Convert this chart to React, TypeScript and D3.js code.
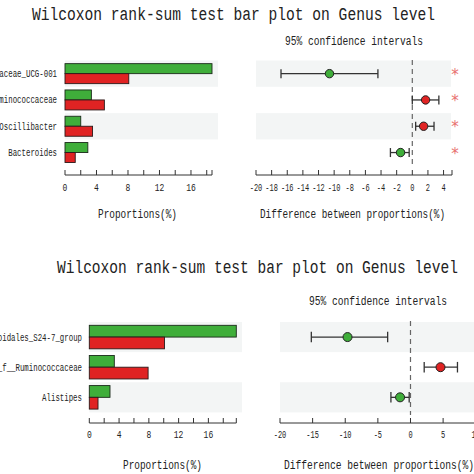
import React from "react";
import * as d3 from "d3";

// ---------- Data ----------
const topGenera = ["Ruminococcaceae_UCG-001", "Ruminococcaceae", "Oscillibacter", "Bacteroides"];
const topGreen = [18.67, 3.35, 2.0, 2.9];
const topRed = [8.1, 5.0, 3.5, 1.3];
const topDiff = [-10.6, 1.7, 1.45, -1.5];
const topLow = [-16.8, 0.0, 0.43, -2.8];
const topHigh = [-4.4, 3.4, 2.78, -0.4];
const topSig = ["*", "*", "*", "*"];
const topPropTicks = [0, 2, 4, 6, 8, 10, 12, 14, 16, 18];
const topPropLabels = [0, 4, 8, 12, 16];
const topDiffTicks = [-20, -18, -16, -14, -12, -10, -8, -6, -4, -2, 0, 2, 4];

const botGenera = ["g__Bacteroidales_S24-7_group", "g__unclassified_f__Ruminococcaceae", "Alistipes"];
const botGreen = [19.75, 3.36, 2.78];
const botRed = [10.1, 7.9, 1.17];
const botDiff = [-9.65, 4.6, -1.6];
const botLow = [-15.2, 2.1, -3.0];
const botHigh = [-3.5, 7.2, -0.2];
const botPropTicks = [0, 2, 4, 6, 8, 10, 12, 14, 16, 18];
const botPropLabels = [0, 4, 8, 12, 16];
const botDiffTicks = [-20, -15, -10, -5, 0, 5, 10];

const TITLE = "Wilcoxon rank-sum test bar plot on Genus level";
const CI_TITLE = "95% confidence intervals";
const PROP_LABEL = "Proportions(%)";
const DIFF_LABEL = "Difference between proportions(%)";

const GREEN = "#3fae3a";
const RED = "#e02323";
const BAND = "#f3f5f5";
const FONT = "'Liberation Mono', 'DejaVu Sans Mono', monospace";
const INK = "#222";

type PanelProps = {
  genera: string[];
  green: number[];
  red: number[];
  diff: number[];
  low: number[];
  high: number[];
  sig?: string[];
  propTicks: number[];
  propLabels: number[];
  diffTicks: number[];
  propDomain: [number, number];
  propRange: [number, number];
  diffDomain: [number, number];
  diffRange: [number, number];
  rowRange: [number, number];
  barFrac: number;
  axisY: number;
  tickLabelY: number;
  labelX: number;
  propBandEnd: number;
  diffBandRange: [number, number];
  dashTop: number;
  dotR: number;
  titleX: number;
  titleY: number;
  titleLen: number;
  ciX: number;
  ciY: number;
  ciLen: number;
  propLabelX: number;
  propLabelLen: number;
  diffLabelX: number;
  diffLabelLen: number;
  axisLabelY: number;
  sigX?: number;
  propEndTick: boolean;
  diffEndTick: boolean;
};

function Panel(p: PanelProps) {
  const px = d3.scaleLinear().domain(p.propDomain).range(p.propRange);
  const dx = d3.scaleLinear().domain(p.diffDomain).range(p.diffRange);
  const y = d3.scaleBand<string>().domain(p.genera).range(p.rowRange).padding(0);
  const bw = y.bandwidth();
  const barH = (bw * p.barFrac) / 2;
  const cap = barH * 0.45;

  return (
    <g>
      <text x={p.titleX} y={p.titleY} fontSize={18} fontFamily={FONT} fill={INK}
        textLength={p.titleLen} lengthAdjust="spacingAndGlyphs">{TITLE}</text>
      <text x={p.ciX} y={p.ciY} fontSize={12} fontFamily={FONT} fill={INK}
        textLength={p.ciLen} lengthAdjust="spacingAndGlyphs">{CI_TITLE}</text>

      {/* background bands */}
      {p.genera.map((g, i) =>
        i % 2 === 0 ? (
          <g key={"band" + g}>
            <rect x={px(0)} y={y(g)!} width={p.propBandEnd - px(0)} height={bw} fill={BAND} />
            <rect x={p.diffBandRange[0]} y={y(g)!} width={p.diffBandRange[1] - p.diffBandRange[0]} height={bw} fill={BAND} />
          </g>
        ) : null
      )}

      {/* bars */}
      {p.genera.map((g, i) => {
        const c = y(g)! + bw / 2;
        return (
          <g key={"bar" + g}>
            <rect x={px(0)} y={c - barH} width={px(p.green[i]) - px(0)} height={barH}
              fill={GREEN} stroke="#1a2a1a" strokeWidth={0.9} />
            <rect x={px(0)} y={c} width={px(p.red[i]) - px(0)} height={barH}
              fill={RED} stroke="#2a1a1a" strokeWidth={0.9} />
            <text x={p.labelX} y={c + 3.5} fontSize={10} fontFamily={FONT} textAnchor="end" fill={INK}
              transform={`translate(${p.labelX},0) scale(0.74,1) translate(${-p.labelX},0)`}>{g}</text>
          </g>
        );
      })}

      {/* dashed zero line */}
      <line x1={dx(0)} x2={dx(0)} y1={p.dashTop} y2={p.axisY - 8} stroke="#666" strokeWidth={1.2} strokeDasharray="5,4" />

      {/* CI */}
      {p.genera.map((g, i) => {
        const c = y(g)! + bw / 2;
        const col = p.diff[i] < 0 ? GREEN : RED;
        return (
          <g key={"ci" + g}>
            <line x1={dx(p.low[i])} x2={dx(p.high[i])} y1={c} y2={c} stroke="#333" strokeWidth={1.3} />
            <line x1={dx(p.low[i])} x2={dx(p.low[i])} y1={c - cap} y2={c + cap} stroke="#333" strokeWidth={1.3} />
            <line x1={dx(p.high[i])} x2={dx(p.high[i])} y1={c - cap} y2={c + cap} stroke="#333" strokeWidth={1.3} />
            <circle cx={dx(p.diff[i])} cy={c} r={p.dotR} fill={col} stroke="#222" strokeWidth={1} />
            {p.sig && p.sigX !== undefined ? (
              <text x={p.sigX} y={c + 6} fontSize={15} fontFamily="'DejaVu Sans', sans-serif" textAnchor="middle" fill="#e87070">{p.sig[i]}</text>
            ) : null}
          </g>
        );
      })}

      {/* proportion axis */}
      <line x1={px(p.propDomain[0])} x2={px(p.propDomain[1])} y1={p.axisY} y2={p.axisY} stroke="#333" strokeWidth={1} />
      {p.propTicks.map((t) => (
        <line key={"pt" + t} x1={px(t)} x2={px(t)} y1={p.axisY} y2={p.axisY - 5} stroke="#333" strokeWidth={1} />
      ))}
      {p.propEndTick ? (
        <line x1={px(p.propDomain[1])} x2={px(p.propDomain[1])} y1={p.axisY} y2={p.axisY - 5} stroke="#333" strokeWidth={1} />
      ) : null}
      {p.propLabels.map((t) => (
        <text key={"pl" + t} x={px(t)} y={p.tickLabelY} fontSize={10} fontFamily={FONT} textAnchor="middle" fill={INK}
          transform={`translate(${px(t)},0) scale(0.8,1) translate(${-px(t)},0)`}>{t}</text>
      ))}
      <text x={p.propLabelX} y={p.axisLabelY} fontSize={13} fontFamily={FONT} fill={INK}
        textLength={p.propLabelLen} lengthAdjust="spacingAndGlyphs">{PROP_LABEL}</text>

      {/* diff axis */}
      <line x1={dx(p.diffDomain[0])} x2={dx(p.diffDomain[1])} y1={p.axisY} y2={p.axisY} stroke="#333" strokeWidth={1} />
      {p.diffTicks.map((t) => (
        <line key={"dt" + t} x1={dx(t)} x2={dx(t)} y1={p.axisY} y2={p.axisY - 5} stroke="#333" strokeWidth={1} />
      ))}
      {p.diffEndTick ? (
        <line x1={dx(p.diffDomain[1])} x2={dx(p.diffDomain[1])} y1={p.axisY} y2={p.axisY - 5} stroke="#333" strokeWidth={1} />
      ) : null}
      {p.diffTicks.map((t) => (
        <text key={"dl" + t} x={dx(t)} y={p.tickLabelY} fontSize={10} fontFamily={FONT} textAnchor="middle" fill={INK}
          transform={`translate(${dx(t)},0) scale(0.7,1) translate(${-dx(t)},0)`}>{t}</text>
      ))}
      <text x={p.diffLabelX} y={p.axisLabelY} fontSize={13} fontFamily={FONT} fill={INK}
        textLength={p.diffLabelLen} lengthAdjust="spacingAndGlyphs">{DIFF_LABEL}</text>
    </g>
  );
}

export default function App() {
  return (
    <svg width={474} height={474} viewBox="0 0 474 474"
      style={{ position: "absolute", left: 0, top: 0, background: "#fff" }}>
      <rect x={0} y={0} width={474} height={474} fill="#fff" />
      <Panel
        genera={topGenera} green={topGreen} red={topRed}
        diff={topDiff} low={topLow} high={topHigh} sig={topSig}
        propTicks={topPropTicks} propLabels={topPropLabels} diffTicks={topDiffTicks}
        propDomain={[0, 18.67]} propRange={[65, 212]}
        diffDomain={[-20, 5.08]} diffRange={[256, 452]}
        rowRange={[60.5, 165.7]} barFrac={0.76}
        axisY={175} tickLabelY={191} labelX={57}
        propBandEnd={218} diffBandRange={[256, 451]} dashTop={60}
        dotR={4.2}
        titleX={32} titleY={20} titleLen={403}
        ciX={285} ciY={45} ciLen={138}
        propLabelX={98} propLabelLen={79}
        diffLabelX={260} diffLabelLen={185}
        axisLabelY={218} sigX={455}
        propEndTick={true} diffEndTick={true}
      />
      <Panel
        genera={botGenera} green={botGreen} red={botRed}
        diff={botDiff} low={botLow} high={botHigh}
        propTicks={botPropTicks} propLabels={botPropLabels} diffTicks={botDiffTicks}
        propDomain={[0, 19.75]} propRange={[89.3, 236.3]}
        diffDomain={[-20, 10.5]} diffRange={[280, 479]}
        rowRange={[322, 412.4]} barFrac={0.78}
        axisY={423} tickLabelY={438} labelX={82}
        propBandEnd={242} diffBandRange={[280, 474]} dashTop={321}
        dotR={4.5}
        titleX={57} titleY={273} titleLen={401}
        ciX={309} ciY={305} ciLen={138}
        propLabelX={123} propLabelLen={79}
        diffLabelX={284} diffLabelLen={190}
        axisLabelY={469}
        propEndTick={true} diffEndTick={false}
      />
    </svg>
  );
}
